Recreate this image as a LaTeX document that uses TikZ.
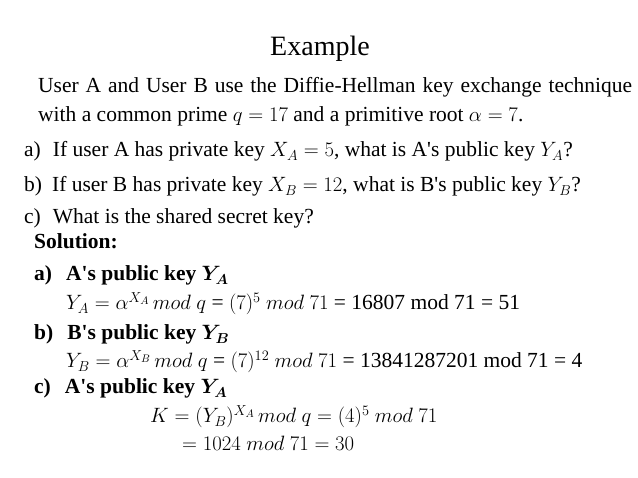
\documentclass[tikz,border=0pt]{standalone}
\usepackage{amsmath}
\usepackage{fontspec}
\setmainfont{Liberation Serif}
\newfontfamily\tnr{Liberation Serif}
\newcommand{\rt}[1]{{\tnr #1}}
\begin{document}
\begin{tikzpicture}[x=1pt,y=-1pt,
  txt/.style={anchor=base west,inner sep=0pt,font=\fontsize{21.5}{26}\selectfont\tnr},
  ttl/.style={anchor=base,inner sep=0pt,font=\fontsize{28}{32}\selectfont\tnr}]
\useasboundingbox[fill=white] (0,0) rectangle (638,478);
\node[ttl] (title) at (320,56) {Example};
\node[txt] (l1) at (38,93) {\makebox[594pt][s]{User A and User B use the Diffie-Hellman key exchange technique}};
\node[txt] (l2) at (38,122) {with a common prime $q=17$ and a primitive root $\alpha=7$.};
\node[txt] (qa) at (24,157) {a)\hspace{12pt}If user A has private key $X_A=5$, what is A's public key $Y_A$?};
\node[txt] (qb) at (24,192) {b)\hspace{10pt}If user B has private key $X_B=12$, what is B's public key $Y_B$?};
\node[txt] (qc) at (24,224) {c)\hspace{12pt}What is the shared secret key?};
\node[txt] (sol) at (34,249) {\textbf{Solution:}};
\node[txt] (sa) at (34,281) {\textbf{a)\hspace{14pt}A's public key $\boldsymbol{Y_A}$}};
\node[txt] (ea) at (66,310) {$Y_A=\alpha^{X_A}\,mod\ q$ \rt{=} $(7)^5\ mod\ 71$ \rt{= 16807 mod 71 = 51}};
\node[txt] (sb) at (34,340) {\textbf{b)\hspace{14pt}B's public key $\boldsymbol{Y_B}$}};
\node[txt] (eb) at (66,368) {$Y_B=\alpha^{X_B}\,mod\ q$ \rt{=} $(7)^{12}\ mod\ 71$ \rt{= 13841287201 mod 71 = 4}};
\node[txt] (sc) at (34,394) {\textbf{c)\hspace{14pt}A's public key $\boldsymbol{Y_A}$}};
\node[txt] (ec) at (150,423) {$K=(Y_B)^{X_A}\,mod\ q=(4)^5\ mod\ 71$};
\node[txt] (ed) at (182,451) {$=1024\ mod\ 71=30$};
\end{tikzpicture}
\end{document}
